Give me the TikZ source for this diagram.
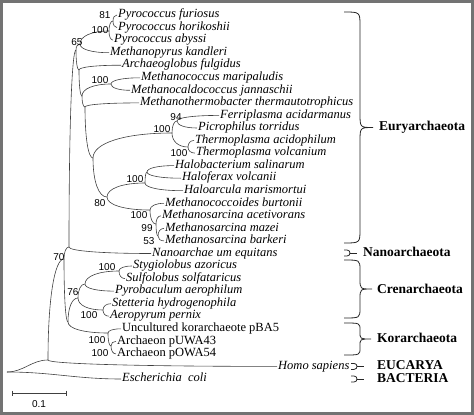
\documentclass[tikz,border=0pt]{standalone}
\usepackage{fontspec}
\setmainfont{Liberation Serif}
\setsansfont{Liberation Sans}
\usetikzlibrary{calc}

% curly bracket for a group: top, bottom, corner radius, tip x
\newcommand{\cladebrace}[4]{%
  \draw[brc] (344,#1) .. controls (360,#1) .. (360,#1+#3)
    -- (360,{(#1+#2)/2-#3}) .. controls (360,{(#1+#2)/2}) .. (#4,{(#1+#2)/2})
    .. controls (360,{(#1+#2)/2}) .. (360,{(#1+#2)/2+#3})
    -- (360,#2-#3) .. controls (360,#2) .. (344,#2);}
% small bracket for a single taxon: left x, y
\newcommand{\taxonbrace}[2]{%
  \draw[brc] (#1,#2-3) -- (#1+3,#2-3) .. controls (#1+7,#2-3) and (#1+7,#2+3) .. (#1+3,#2+3) -- (#1,#2+3);
  \draw[brc] (#1+6,#2) -- (#1+13,#2);}

\begin{document}
\begin{tikzpicture}[
    x=1pt, y=-1pt,
    tree/.style={line width=0.6pt, draw=black!75},
    brc/.style={line width=0.8pt, draw=black!85},
    leaf/.style={anchor=west, inner xsep=1pt, inner ysep=0pt, text height=8.5pt, text depth=3pt,
                 font=\fontsize{12.5}{14}\selectfont\itshape},
    strain/.style={leaf, font=\fontsize{12.5}{14}\selectfont},
    bs/.style={inner sep=0pt, font=\sffamily\fontsize{10}{11}\selectfont},
    phylum/.style={anchor=west, inner sep=0pt, text height=9pt, text depth=2.5pt,
                   font=\fontsize{13.5}{15}\selectfont\bfseries},
    br/.style={to path={.. controls ($(\tikztostart)!0.6!(\tikztostart|-\tikztotarget)$)
                        and ($(\tikztotarget)!0.6!(\tikztostart|-\tikztotarget)$) .. (\tikztotarget)}}
]

\useasboundingbox (0,0) rectangle (474,415);
\draw[line width=3pt, draw=black!55] (1.5,1.5) rectangle (472.5,413.5);

% ================= leaves =================

\node[leaf] (pfur) at (117,15.0)  {Pyrococcus furiosus};
\node[leaf] (phor) at (117,27.6)  {Pyrococcus horikoshii};
\node[leaf] (paby) at (113,40.1)  {Pyrococcus abyssi};
\node[leaf] (mkan) at (109,52.7)  {Methanopyrus kandleri};
\node[leaf] (aful) at (121,65.2)  {Archaeoglobus fulgidus};
\node[leaf] (mmar) at (140,77.8)  {Methanococcus maripaludis};
\node[leaf] (mjan) at (130,90.3)  {Methanocaldococcus jannaschii};
\node[leaf] (mthe) at (139,102.9) {Methanothermobacter thermautotrophicus};
\node[leaf] (fer)  at (219,115.4) {Ferriplasma acidarmanus};
\node[leaf] (pic)  at (197,128.0) {Picrophilus torridus};
\node[leaf] (tac)  at (194,140.5) {Thermoplasma acidophilum};
\node[leaf] (tvo)  at (195,153.1) {Thermoplasma volcanium};
\node[leaf] (hsa)  at (174,165.6) {Halobacterium salinarum};
\node[leaf] (hvo)  at (181,178.2) {Haloferax volcanii};
\node[leaf] (hma)  at (183,190.7) {Haloarcula marismortui};
\node[leaf] (mbu)  at (164,203.3) {Methanococcoides burtonii};
\node[leaf] (mac)  at (161,215.8) {Methanosarcina acetivorans};
\node[leaf] (mma)  at (164,228.4) {Methanosarcina mazei};
\node[leaf] (mba)  at (164,240.9) {Methanosarcina barkeri};
\node[leaf] (neq)  at (151,253.5) {Nanoarchae um equitans};
\node[leaf] (saz)  at (132,266.0) {Stygiolobus azoricus};
\node[leaf] (sso)  at (125,278.6) {Sulfolobus solfataricus};
\node[leaf] (pae)  at (114,291.1) {Pyrobaculum aerophilum};
\node[leaf] (she)  at (111,303.7) {Stetteria hydrogenophila};
\node[leaf] (ape)  at (109,316.2) {Aeropyrum pernix};
\node[strain] (kor)  at (121,328.8) {Uncultured korarchaeote pBA5};
\node[strain] (puwa) at (116,341.3) {Archaeon pUWA43};
\node[strain] (powa) at (116,353.9) {Archaeon pOWA54};
\node[leaf] (hom)  at (277,366.4) {Homo sapiens};
\node[leaf] (eco)  at (121,379.0) {Escherichia\enspace coli};

% ================= internal nodes =================

\coordinate (root) at (7,372);
\coordinate (AR)   at (48,360);
\coordinate (n70)  at (64,259);
\coordinate (EN)   at (69,247);
\coordinate (E0)   at (76,50);
\coordinate (n65)  at (80,44);
\coordinate (P2)   at (109,31);
\coordinate (P1)   at (113,21);
\coordinate (E1)   at (79,70);
\coordinate (E2)   at (82,96);
\coordinate (M)    at (111,84);
\coordinate (E3)   at (85,107);
\coordinate (E4)   at (93,158);
\coordinate (T0)   at (172,133);
\coordinate (T1)   at (177,121);
\coordinate (T2)   at (188,147);
\coordinate (n80)  at (107,197);
\coordinate (H0)   at (145,183);
\coordinate (H1)   at (147,172);
\coordinate (M0)   at (150,210);
\coordinate (M1)   at (156,224);
\coordinate (M2)   at (158,236);
\coordinate (CK)   at (68,322);
\coordinate (n76)  at (78,298);
\coordinate (C1)   at (85,284);
\coordinate (C3)   at (119,271);
\coordinate (C2)   at (103,310);
\coordinate (K0)   at (108,333);
\coordinate (K1)   at (111,346);

% ================= branches =================

\draw[tree] (root) to[out=0,in=180] (AR);
\draw[tree] (root) to[out=0,in=180] (eco.west);
\draw[tree] (AR) to[br] (n70);
\draw[tree] (AR) to[br] (hom.west);
\draw[tree] (n70) to[br] (EN);
\draw[tree] (n70) to[br] (CK);
\draw[tree] (EN) to[br] (E0);
\draw[tree] (EN) to[br] (neq.west);

\draw[tree] (E0) to[br] (n65);
\draw[tree] (E0) to[br] (E1);
\draw[tree] (n65) to[br] (P2);
\draw[tree] (n65) to[br] (mkan.west);
\draw[tree] (P2) to[br] (P1);
\draw[tree] (P2) to[br] (paby.west);
\draw[tree] (P1) to[br] (pfur.west);
\draw[tree] (P1) to[br] (phor.west);
\draw[tree] (E1) to[br] (aful.west);
\draw[tree] (E1) to[br] (E2);
\draw[tree] (E2) to[br] (M);
\draw[tree] (E2) to[br] (E3);
\draw[tree] (M) to[br] (mmar.west);
\draw[tree] (M) to[br] (mjan.west);
\draw[tree] (E3) to[br] (mthe.west);
\draw[tree] (E3) to[br] (E4);
\draw[tree] (E4) to[br] (T0);
\draw[tree] (E4) to[br] (n80);
\draw[tree] (T0) to[br] (T1);
\draw[tree] (T0) to[br] (T2);
\draw[tree] (T1) to[br] (fer.west);
\draw[tree] (T1) to[br] (pic.west);
\draw[tree] (T2) to[br] (tac.west);
\draw[tree] (T2) to[br] (tvo.west);
\draw[tree] (n80) to[br] (H0);
\draw[tree] (n80) to[br] (M0);
\draw[tree] (H0) to[br] (H1);
\draw[tree] (H0) to[br] (hma.west);
\draw[tree] (H1) to[br] (hsa.west);
\draw[tree] (H1) to[br] (hvo.west);
\draw[tree] (M0) to[br] (mbu.west);
\draw[tree] (M0) to[br] (M1);
\draw[tree] (M1) to[br] (mac.west);
\draw[tree] (M1) to[br] (M2);
\draw[tree] (M2) to[br] (mma.west);
\draw[tree] (M2) to[br] (mba.west);

\draw[tree] (CK) to[br] (n76);
\draw[tree] (CK) to[br] (K0);
\draw[tree] (n76) to[br] (C1);
\draw[tree] (n76) to[br] (C2);
\draw[tree] (C1) to[br] (C3);
\draw[tree] (C1) to[br] (pae.west);
\draw[tree] (C3) to[br] (saz.west);
\draw[tree] (C3) to[br] (sso.west);
\draw[tree] (C2) to[br] (she.west);
\draw[tree] (C2) to[br] (ape.west);
\draw[tree] (K0) to[br] (kor.west);
\draw[tree] (K0) to[br] (K1);
\draw[tree] (K1) to[br] (puwa.west);
\draw[tree] (K1) to[br] (powa.west);

% ================= bootstrap values =================

\node[bs] (b81)   at (105,15)  {81};
\node[bs] (b100a) at (100,30)  {100};
\node[bs] (b65)   at (77,42)   {65};
\node[bs] (b100b) at (100,80)  {100};
\node[bs] (b94)   at (176,117) {94};
\node[bs] (b100c) at (162,129) {100};
\node[bs] (b100d) at (179,153) {100};
\node[bs] (b100e) at (135,179) {100};
\node[bs] (b80)   at (100,203) {80};
\node[bs] (b100f) at (139,215) {100};
\node[bs] (b99)   at (147,228) {99};
\node[bs] (b53)   at (149,241) {53};
\node[bs] (b70)   at (59,257)  {70};
\node[bs] (b100g) at (107,267) {100};
\node[bs] (b76)   at (73,292)  {76};
\node[bs] (b100h) at (89,315)  {100};
\node[bs] (b100i) at (97,340)  {100};
\node[bs] (b100j) at (100,353) {100};

% ================= groups =================

\cladebrace{12}{243}{14}{373}
\cladebrace{260}{318}{10}{372}
\cladebrace{323}{355}{7}{371}
\taxonbrace{344}{253}
\taxonbrace{351}{366.4}
\taxonbrace{351}{379}

\node[phylum] (eury)  at (379,127) {Euryarchaeota};
\node[phylum] (nano)  at (363,253) {Nanoarchaeota};
\node[phylum] (cren)  at (377,290) {Crenarchaeota};
\node[phylum] (kora)  at (377,339) {Korarchaeota};
\node[phylum] (euca)  at (377,366.4) {EUCARYA};
\node[phylum] (bact)  at (377,379) {BACTERIA};

% ================= scale =================

\draw[tree] (12,393) -- (66,393);
\draw[tree] (12,390.5) -- (12,395.5);
\draw[tree] (66,390.5) -- (66,395.5);
\node[bs] (scl) at (39,404) {0.1};

\end{tikzpicture}
\end{document}
